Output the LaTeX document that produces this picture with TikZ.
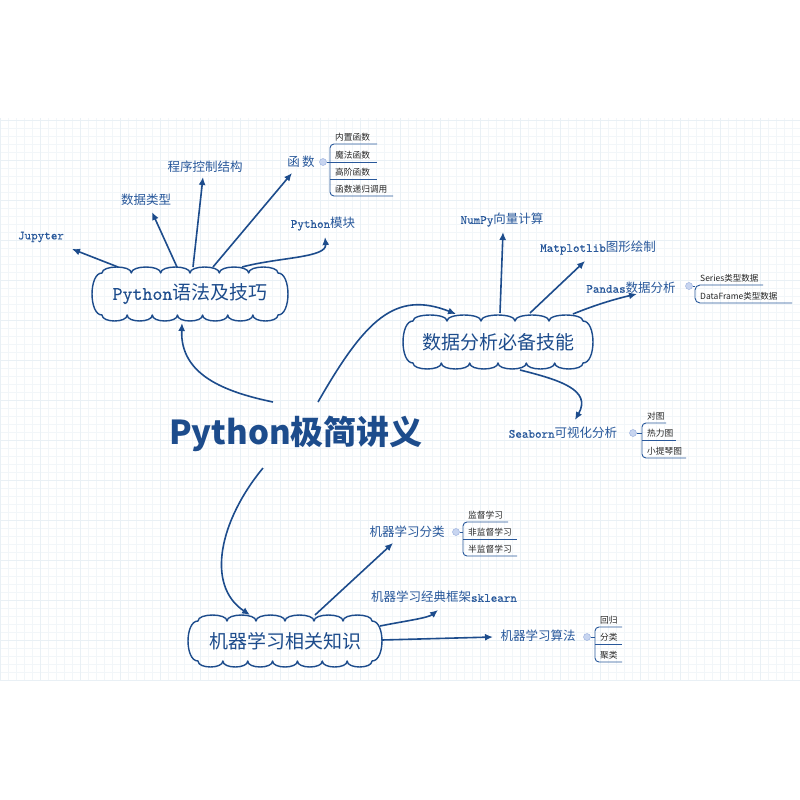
\documentclass[tikz,border=0pt]{standalone}
\usepackage{fontspec}
\setmonofont{lmmono10-regular}[Extension=.otf, FakeBold=0.25]
\newfontfamily\cjk{Noto Sans CJK SC}
\usetikzlibrary{arrows.meta}
\definecolor{mainblue}{RGB}{29,76,140}
\definecolor{leafblue}{RGB}{40,88,155}
\definecolor{gridminor}{RGB}{242,246,249}
\definecolor{gridmajor}{RGB}{233,240,245}
\definecolor{dotfill}{RGB}{200,213,240}
\definecolor{dotdraw}{RGB}{150,172,220}
\tikzset{
  cloudline/.style={draw=mainblue, line width=1.4pt, line join=round},
  cloudtxt/.style={font=\cjk\fontsize{19}{22}\selectfont, text=mainblue, inner sep=0pt},
  titletxt/.style={font=\cjk\bfseries\fontsize{33}{36}\selectfont, text=mainblue, inner sep=0pt},
  leaf/.style={font=\cjk\fontsize{12.5}{14}\selectfont, text=leafblue, inner sep=1pt},
  subtxt/.style={font=\cjk\fontsize{8.7}{10}\selectfont, text=black!85, anchor=south west, inner xsep=5pt, inner ysep=2.5pt},
  arr/.style={draw=mainblue, line width=1.6pt, -{Latex[length=8pt,width=7pt]}},
  subline/.style={draw=leafblue, line width=0.9pt},
  hub/.style={circle, fill=dotfill, draw=dotdraw, line width=0.4pt, minimum size=7pt, inner sep=0pt},
  gminor/.style={draw=gridminor, line width=0.5pt},
  gmajor/.style={draw=gridmajor, line width=0.6pt},
}
% cloud outline: #1 cx, #2 cy, #3 half width, #4 half height, #5 top bumps, #6 bottom bumps, #7 bump height
\newcommand\cloudat[7]{%
  \pgfmathsetmacro\cloudL{#1-#3+10}%
  \pgfmathsetmacro\cloudR{#1+#3-10}%
  \pgfmathsetmacro\cloudT{#2-#4+#7}%
  \pgfmathsetmacro\cloudB{#2+#4-#7}%
  \pgfmathsetmacro\cloudDT{(\cloudR-\cloudL)/#5}%
  \pgfmathsetmacro\cloudDB{(\cloudR-\cloudL)/#6}%
  \pgfmathsetmacro\cloudK{#7*1.33}%
  \draw[cloudline] (\cloudL,\cloudT)
    \foreach \i in {1,...,#5}{ .. controls +(0,-\cloudK) and +(0,-\cloudK) .. ++(\cloudDT,0) }
    .. controls +(13.3,0) and +(13.3,0) .. (\cloudR,\cloudB)
    \foreach \i in {1,...,#6}{ .. controls +(0,\cloudK) and +(0,\cloudK) .. ++(-\cloudDB,0) }
    .. controls +(-13.3,0) and +(-13.3,0) .. (\cloudL,\cloudT) -- cycle;
}
\begin{document}
\begin{tikzpicture}[x=1pt,y=-1pt]
\useasboundingbox (0,0) rectangle (800,800);
\fill[white] (0,0) rectangle (800,800);
% grid
\foreach \x in {0,8,...,800} \draw[gminor] (\x,118) -- (\x,680);
\foreach \y in {120,128,...,680} \draw[gminor] (0,\y) -- (800,\y);
\foreach \x in {0,40,...,800} \draw[gmajor] (\x,118) -- (\x,680);
\foreach \y in {120,160,...,680} \draw[gmajor] (0,\y) -- (800,\y);

% central title
\node[titletxt] (T) at (296,434) {Python极简讲义};

% clouds
\node[cloudtxt, minimum width=196pt, minimum height=54pt] (py) at (190,294) {{\ttfamily Python}语法及技巧};
\cloudat{190}{294}{98}{27}{6}{7}{6}
\node[cloudtxt, minimum width=190pt, minimum height=54pt] (da) at (498,342) {数据分析必备技能};
\cloudat{498}{342}{95}{27}{5}{6}{6}
\node[cloudtxt, minimum width=194pt, minimum height=52pt] (ml) at (285,641) {机器学习相关知识};
\cloudat{285}{641}{97}{26}{6}{7}{6}

% leaves
\node[leaf] (jup) at (41,237) {{\ttfamily Jupyter}};
\node[leaf] (sjlx) at (146,200) {数据类型};
\node[leaf] (cxkz) at (205,167) {程序控制结构};
\node[leaf] (hs) at (301,162) {函\,数};
\node[leaf] (pymk) at (323,224) {{\ttfamily Python}模块};
\node[leaf] (np) at (502,220) {{\ttfamily NumPy}向量计算};
\node[leaf] (mpl) at (598,248) {{\ttfamily Matplotlib}图形绘制};
\node[leaf] (pd) at (631,288) {{\ttfamily Pandas}数据分析};
\node[leaf] (sb) at (563,433) {{\ttfamily Seaborn}可视化分析};
\node[leaf] (mlfl) at (407,532) {机器学习分类};
\node[leaf] (skl) at (444,597) {机器学习经典框架{\ttfamily sklearn}};
\node[leaf] (mlsf) at (538,636) {机器学习算法};

% arrows from Python syntax
\draw[arr] ([shift={(-72,-27)}]py.center) -- ([shift={(31,12)}]jup.center);
\draw[arr] ([shift={(-13,-27)}]py.center) -- ([shift={(6,12)}]sjlx.center);
\draw[arr] ([shift={(3,-27)}]py.center) -- ([shift={(-2,10)}]cxkz.center);
\draw[arr] ([shift={(23,-27)}]py.center) -- ([shift={(-9,11)}]hs.center);
\draw[arr] ([shift={(52,-27)}]py.center) .. controls +(38,-10) and +(2,21) .. ([shift={(2,13)}]pymk.center);

% arrows from title
\draw[arr] ([shift={(-23,-32)}]T.center) .. controls +(-48,-10) and +(-2,52) .. ([shift={(-8,29)}]py.center);
\draw[arr] ([shift={(22,-32)}]T.center) .. controls +(47,-82) and +(-61,-24) .. ([shift={(-42,-28)}]da.center);
\draw[arr] ([shift={(-33,34)}]T.center) .. controls +(-43,52) and +(-45,-30) .. ([shift={(-35,-26)}]ml.center);

% arrows from data analysis
\draw[arr] ([shift={(2,-29)}]da.center) -- ([shift={(1,12)}]np.center);
\draw[arr] ([shift={(32,-29)}]da.center) -- ([shift={(-13,13)}]mpl.center);
\draw[arr] ([shift={(75,-28)}]da.center) .. controls +(22,-9) and +(-22,5) .. ([shift={(6,6)}]pd.center);
\draw[arr] ([shift={(22,28)}]da.center) .. controls +(40,10) and +(17,-30) .. ([shift={(12,-13)}]sb.center);

% arrows from machine learning
\draw[arr] ([shift={(30,-26)}]ml.center) -- ([shift={(-14,11)}]mlfl.center);
\draw[arr] ([shift={(95,-15)}]ml.center) .. controls +(25,-5) and +(-10,8) .. ([shift={(-6,13)}]skl.center);
\draw[arr] ([shift={(97,-1)}]ml.center) -- ([shift={(-45,1)}]mlsf.center);

% sub-list: functions
\node[subtxt] (hs1) at (330,144) {内置函数};
\node[subtxt] (hs2) at (330,162) {魔法函数};
\node[subtxt] (hs3) at (330,179) {高阶函数};
\node[subtxt] (hs4) at (330,196) {函数递归调用};
\node[hub] (hsdot) at (323,162) {};
\draw[subline] (hsdot) -- (hsdot -| hs2.south west);
\draw[subline, rounded corners=4pt] ([xshift=47pt]hs1.south west) -- (hs1.south west) -- (hs4.south west) -- ([xshift=63pt]hs4.south west);
\draw[subline] (hs2.south west) -- ++(47,0);
\draw[subline] (hs3.south west) -- ++(47,0);

% sub-list: pandas
\node[subtxt, font=\cjk\fontsize{8.5}{10}\selectfont] (pd1) at (695,285) {Series类型数据};
\node[subtxt, font=\cjk\fontsize{8.5}{10}\selectfont] (pd2) at (695,303) {DataFrame类型数据};
\node[hub] (pddot) at (689,286) {};
\draw[subline] (pddot) -- (pddot -| pd1.south west);
\draw[subline, rounded corners=5pt] ([xshift=68pt]pd1.south west) -- (pd1.south west) -- (pd2.south west) -- ([xshift=97pt]pd2.south west);

% sub-list: seaborn
\node[subtxt] (sb1) at (642,423) {对图};
\node[subtxt] (sb2) at (642,440) {热力图};
\node[subtxt] (sb3) at (642,458) {小提琴图};
\node[hub] (sbdot) at (633,433) {};
\draw[subline] (sbdot) -- (sbdot -| sb2.south west);
\draw[subline, rounded corners=4pt] ([xshift=24pt]sb1.south west) -- (sb1.south west) -- (sb3.south west) -- ([xshift=44pt]sb3.south west);
\draw[subline] (sb2.south west) -- ++(34,0);

% sub-list: ML categories
\node[subtxt] (fl1) at (463,522) {监督学习};
\node[subtxt] (fl2) at (463,539) {非监督学习};
\node[subtxt] (fl3) at (463,556) {半监督学习};
\node[hub] (fldot) at (456,532) {};
\draw[subline] (fldot) -- (fldot -| fl2.south west);
\draw[subline, rounded corners=4pt] ([xshift=45pt]fl1.south west) -- (fl1.south west) -- (fl3.south west) -- ([xshift=54pt]fl3.south west);
\draw[subline] (fl2.south west) -- ++(54,0);

% sub-list: ML algorithms
\node[subtxt] (sf1) at (595,627) {回归};
\node[subtxt] (sf2) at (595,644) {分类};
\node[subtxt] (sf3) at (595,662) {聚类};
\node[hub] (sfdot) at (587,637) {};
\draw[subline] (sfdot) -- (sfdot -| sf2.south west);
\draw[subline, rounded corners=4pt] ([xshift=27pt]sf1.south west) -- (sf1.south west) -- (sf3.south west) -- ([xshift=27pt]sf3.south west);
\draw[subline] (sf2.south west) -- ++(27,0);
\end{tikzpicture}
\end{document}
